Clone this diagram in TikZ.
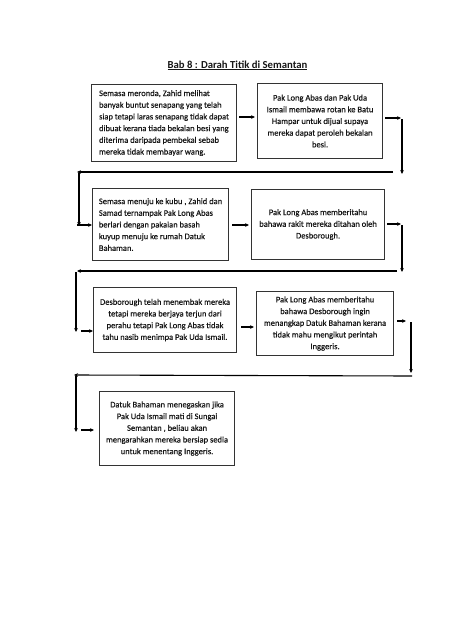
\documentclass[tikz,border=0pt]{standalone}
\usepackage{fontspec}
\setmainfont{Carlito}
\newfontfamily\bodyfont[FakeBold=0.35]{Carlito}
\usetikzlibrary{arrows.meta}
\definecolor{boxc}{HTML}{333333}
\definecolor{txt}{HTML}{161616}
\begin{document}
\begin{tikzpicture}[x=1pt,y=-1pt,
  box/.style={draw=boxc,line width=1.1pt,anchor=north west,inner ysep=0pt,inner xsep=2pt,text=txt,
    font=\bodyfont\fontsize{8.5}{11.7}\selectfont},
  lbox/.style={box,align=left},
  cbox/.style={box,align=center},
  conn/.style={line width=1.1pt,draw=black},
  arr/.style={conn,-{Stealth[length=4pt,width=3.6pt]}}]
\useasboundingbox (0,0) rectangle (474,632);
\fill[white] (0,0) rectangle (474,632);

\node[anchor=base,font=\fontsize{10.7}{13}\selectfont\bfseries,text=txt] (title) at (237.5,68)
  {\underline{Bab 8 : Darah Titik di Semantan}};

% row 1
\node[lbox,minimum width=145pt,minimum height=77pt] (b1) at (91,84)
  {Semasa meronda, Zahid melihat\\banyak buntut senapang yang telah\\siap tetapi laras senapang tidak dapat\\dibuat kerana tiada bekalan besi yang\\diterima daripada pembekal sebab\\mereka tidak membayar wang.};
\node[cbox,minimum width=125pt,minimum height=75pt] (b2) at (257,83)
  {Pak Long Abas dan Pak Uda\\Ismail membawa rotan ke Batu\\Hampar untuk dijual supaya\\mereka dapat peroleh bekalan\\besi.};

% row 2
\node[lbox,minimum width=136pt,minimum height=72pt] (b3) at (92,188)
  {Semasa menuju ke kubu , Zahid dan\\Samad ternampak Pak Long Abas\\berlari dengan pakaian basah\\kuyup menuju ke rumah Datuk\\Bahaman.};
\node[cbox,minimum width=133pt,minimum height=70pt] (b4) at (251,189)
  {Pak Long Abas memberitahu\\bahawa rakit mereka ditahan oleh\\Desborough.};

% row 3
\node[cbox,minimum width=143pt,minimum height=65pt] (b5) at (93,287)
  {Desborough telah menembak mereka\\tetapi mereka berjaya terjun dari\\perahu tetapi Pak Long Abas tidak\\tahu nasib menimpa Pak Uda Ismail.};
\node[cbox,minimum width=137pt,minimum height=64pt] (b6) at (256,291)
  {Pak Long Abas memberitahu\\bahawa Desborough ingin\\menangkap Datuk Bahaman kerana\\tidak mahu mengikut perintah\\Inggeris.};

% row 4
\node[cbox,minimum width=135pt,minimum height=74pt] (b7) at (99,391)
  {Datuk Bahaman menegaskan jika\\Pak Uda Ismail mati di Sungai\\Semantan , beliau akan\\mengarahkan mereka bersiap sedia\\untuk menentang Inggeris.};

% waypoints
\coordinate (s12) at (239,117);
\coordinate (s2) at (385,118);
\coordinate (t2) at (401,118);
\coordinate (v1a) at (402,119);
\coordinate (v1b) at (402,174);
\coordinate (h1r) at (393,172);
\coordinate (h1l) at (77,172);
\coordinate (l1a) at (79,173);
\coordinate (l1b) at (79,226);
\coordinate (s3) at (77,225);

\coordinate (s34) at (232,225);
\coordinate (s4) at (387,224);
\coordinate (t4) at (401,224);
\coordinate (v2a) at (402,225);
\coordinate (v2b) at (402,272);
\coordinate (h2r) at (397,271);
\coordinate (h2l) at (77,271);
\coordinate (l2a) at (76,272);
\coordinate (l2b) at (76,332);
\coordinate (s5) at (81,331);

\coordinate (s56) at (241,327);
\coordinate (s6) at (397,321);
\coordinate (t6) at (406,321);
\coordinate (v3a) at (411,322);
\coordinate (v3b) at (411,373);
\coordinate (h3r) at (412,376);
\coordinate (h3l) at (74,375);
\coordinate (l3a) at (76,376);
\coordinate (l3b) at (76,432);
\coordinate (s7) at (81,430);

% connectors
\draw[arr,shorten >=2pt] (s12) -- (s12 -| b2.west);
\draw[arr] (s2) -- (t2);
\draw[arr] (v1a) -- (v1b);
\draw[arr] (h1r) -- (h1l);
\draw[arr] (l1a) -- (l1b);
\draw[arr] (s3) -- (s3 -| b3.west);

\draw[arr,shorten >=2pt] (s34) -- (s34 -| b4.west);
\draw[arr] (s4) -- (t4);
\draw[arr] (v2a) -- (v2b);
\draw[arr] (h2r) -- (h2l);
\draw[arr] (l2a) -- (l2b);
\draw[arr] (s5) -- (s5 -| b5.west);

\draw[arr,shorten >=2pt] (s56) -- (s56 -| b6.west);
\draw[arr] (s6) -- (t6);
\draw[arr] (v3a) -- (v3b);
\draw[arr] (h3r) -- (h3l);
\draw[arr] (l3a) -- (l3b);
\draw[arr,shorten >=5pt] (s7) -- (s7 -| b7.west);
\end{tikzpicture}
\end{document}
